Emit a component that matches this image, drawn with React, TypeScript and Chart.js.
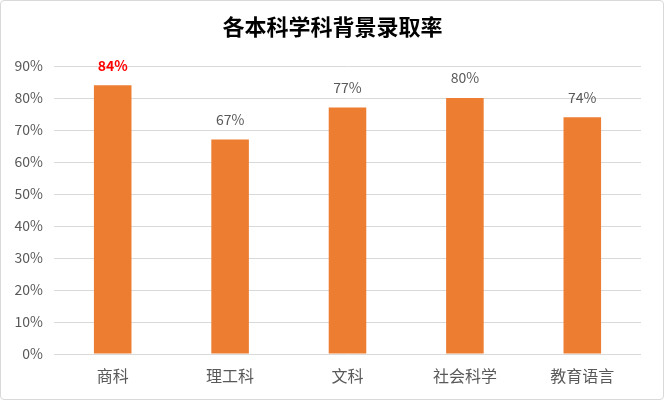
import React, { useEffect, useRef } from 'react';
import Chart from 'chart.js/auto';

// chart data
const categories = ['商科', '理工科', '文科', '社会科学', '教育语言'];
const rates = [84, 67, 77, 80, 74];
const highlightIndex = 0;
const titleText = '各本科学科背景录取率';

const FONT = '"Noto Sans CJK SC", "Noto Sans", sans-serif';

// draws the value labels above each bar, plus the title centred on the whole canvas
const valueLabels = {
    id: 'valueLabels',
    afterDatasetsDraw(chart: any) {
        const { ctx } = chart;
        const meta = chart.getDatasetMeta(0);
        ctx.save();
        ctx.textAlign = 'center';
        ctx.textBaseline = 'middle';
        meta.data.forEach((bar: any, i: number) => {
            const isHi = i === highlightIndex;
            ctx.fillStyle = isHi ? '#ff0000' : '#595959';
            ctx.font = `${isHi ? 'bold ' : ''}14px ${FONT}`;
            ctx.fillText(rates[i] + '%', bar.x, bar.y - 20);
        });
        ctx.fillStyle = '#000000';
        ctx.font = `bold 22px ${FONT}`;
        ctx.fillText(titleText, chart.width / 2 + 0.5, 26);
        ctx.restore();
    },
};

const App: React.FC = () => {
    const canvasRef = useRef<HTMLCanvasElement | null>(null);

    useEffect(() => {
        document.body.style.margin = '0';
        if (!canvasRef.current) return;
        const chart = new Chart(canvasRef.current, {
            type: 'bar',
            data: {
                labels: categories,
                datasets: [
                    {
                        data: rates,
                        backgroundColor: '#ed7d31',
                        categoryPercentage: 1,
                        barPercentage: 0.32,
                    },
                ],
            },
            options: {
                animation: false,
                responsive: false,
                layout: { padding: { left: 0, right: 22, top: 65, bottom: 0 } },
                plugins: {
                    legend: { display: false },
                    tooltip: { enabled: false },
                    title: { display: false },
                },
                scales: {
                    x: {
                        grid: { display: false, drawTicks: false },
                        border: { display: false },
                        ticks: {
                            color: '#595959',
                            font: { family: FONT, size: 16 },
                            padding: 12,
                        },
                        afterFit(scale: any) {
                            scale.height = 45;
                        },
                    },
                    y: {
                        min: 0,
                        max: 90,
                        ticks: {
                            stepSize: 10,
                            color: '#595959',
                            font: { family: FONT, size: 14 },
                            padding: 11,
                            callback: (v: any) => v + '%',
                        },
                        grid: { color: '#d9d9d9', drawTicks: false },
                        border: { display: false },
                        afterFit(scale: any) {
                            scale.width = 53;
                        },
                    },
                },
            },
            plugins: [valueLabels],
        });
        return () => chart.destroy();
    }, []);

    return (
        <div
            style={{
                width: 664,
                height: 400,
                boxSizing: 'border-box',
                border: '1px solid #d9d9d9',
                borderRadius: 4,
                background: '#fff',
                overflow: 'hidden',
            }}
        >
            <canvas ref={canvasRef} width={662} height={398} style={{ display: 'block' }} />
        </div>
    );
};

export default App;
